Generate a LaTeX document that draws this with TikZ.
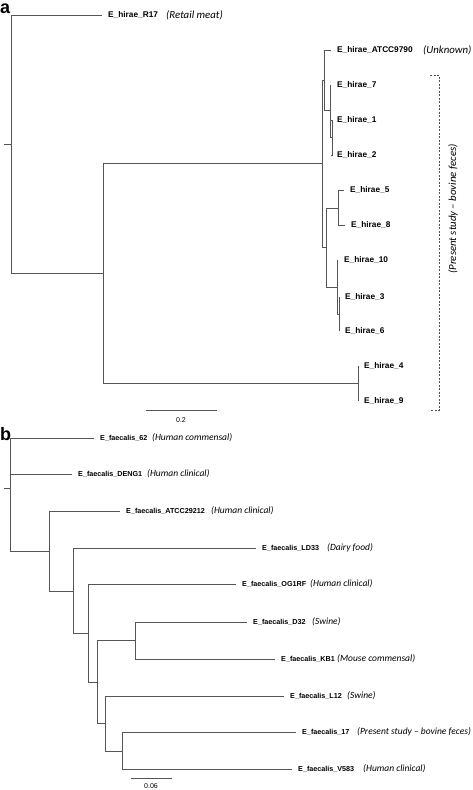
\documentclass[tikz,border=0pt]{standalone}
\usepackage{fontspec}
\setmainfont{Liberation Sans}
\newfontfamily\notefont{Carlito}
\usepackage{xcolor}
\definecolor{treegray}{RGB}{85,85,85}

\begin{document}
\begin{tikzpicture}[x=1pt, y=-1pt,
  branch/.style={draw=treegray, line width=1pt},
  bracket/.style={draw=treegray, line width=1pt, dash pattern=on 2pt off 1.5pt},
  leafa/.style={anchor=west, inner xsep=6pt, inner ysep=0pt, font=\fontsize{8.3}{10}\selectfont\bfseries},
  leafb/.style={anchor=west, inner xsep=6pt, inner ysep=0pt, font=\fontsize{7.2}{9}\selectfont\bfseries},
  notea/.style={anchor=west, inner sep=0pt, font=\fontsize{10.8}{12}\notefont\itshape},
  noteb/.style={anchor=west, inner sep=0pt, font=\fontsize{9.5}{11}\notefont\itshape},
  panel/.style={anchor=base west, inner sep=0pt, font=\fontsize{18}{20}\selectfont\bfseries},
  scalelbl/.style={inner sep=0pt, font=\fontsize{7}{8}\selectfont}]
\useasboundingbox (0,0) rectangle (472,790);

% panel a
\node[panel] (pa) at (0,13) {a};
\coordinate (ra) at (11,144);
\coordinate (ra0) at (4,144);
\coordinate (a1) at (103,273);
\coordinate (a2) at (322,163);
\coordinate (a3) at (324,80);
\coordinate (a4) at (330,110);
\coordinate (a5) at (332,137);
\coordinate (a6) at (326,247);
\coordinate (a7) at (338,208);
\coordinate (a8) at (337,287);
\coordinate (a9) at (339,314);
\coordinate (a10) at (358,383);

\node[leafa] (r17) at (102,15) {E\_hirae\_R17};
\node[leafa] (atcc) at (331,50) {E\_hirae\_ATCC9790};
\node[leafa] (h7) at (331,85) {E\_hirae\_7};
\node[leafa] (h1) at (331,120) {E\_hirae\_1};
\node[leafa] (h2) at (331,155) {E\_hirae\_2};
\node[leafa] (h5) at (344,190) {E\_hirae\_5};
\node[leafa] (h8) at (345,225) {E\_hirae\_8};
\node[leafa] (h10) at (338,260) {E\_hirae\_10};
\node[leafa] (h3) at (339,297) {E\_hirae\_3};
\node[leafa] (h6) at (339,331) {E\_hirae\_6};
\node[leafa] (h4) at (358,366) {E\_hirae\_4};
\node[leafa] (h9) at (358,401) {E\_hirae\_9};

\node[notea] (nr17) at (166,15) {(Retail meat)};
\node[notea] (natcc) at (423,50) {(Unknown)};

\draw[branch] (ra0) -- (ra);
\draw[branch] (ra) |- (r17.west);
\draw[branch] (ra) |- (a1);
\draw[branch] (a1) |- (a2);
\draw[branch] (a1) |- (a10);
\draw[branch] (a2) |- (a3);
\draw[branch] (a2) |- (a6);
\draw[branch] (a3) |- (atcc.west);
\draw[branch] (a3) |- (a4);
\draw[branch] (a4) |- (h7.west);
\draw[branch] (a4) |- (a5);
\draw[branch] (a5) |- (h1.west);
\draw[branch] (a5) |- (h2.west);
\draw[branch] (a6) |- (a7);
\draw[branch] (a6) |- (a8);
\draw[branch] (a7) |- (h5.west);
\draw[branch] (a7) |- (h8.west);
\draw[branch] (a8) |- (h10.west);
\draw[branch] (a8) |- (a9);
\draw[branch] (a9) |- (h3.west);
\draw[branch] (a9) |- (h6.west);
\draw[branch] (a10) |- (h4.west);
\draw[branch] (a10) |- (h9.west);

\coordinate (bk0) at (430,75);
\coordinate (bk1) at (439,75);
\coordinate (bk2) at (439,410);
\coordinate (bk3) at (430,410);
\draw[bracket] (bk0) -- (bk1) -- (bk2) -- (bk3);
\node[notea, anchor=center, rotate=90] (nps) at (453,209) {(Present study – bovine feces)};

\coordinate (sa0) at (146,410);
\coordinate (sa1) at (217,410);
\draw[branch] (sa0) -- (sa1);
\node[scalelbl] (sal) at (181,420) {0.2};

% panel b
\node[panel] (pb) at (0,440) {b};
\coordinate (rb) at (10,488);
\coordinate (rb0) at (4,488);
\coordinate (b1) at (49,551);
\coordinate (b2) at (73,591);
\coordinate (b3) at (88,633);
\coordinate (b4) at (97,682);
\coordinate (b5) at (135,640);
\coordinate (b6) at (105,723);
\coordinate (b7) at (122,751);

\node[leafb] (f62) at (94,438) {E\_faecalis\_62};
\node[leafb] (fdeng) at (72,474) {E\_faecalis\_DENG1};
\node[leafb] (fatcc) at (120,511) {E\_faecalis\_ATCC29212};
\node[leafb] (fld) at (256,548) {E\_faecalis\_LD33};
\node[leafb] (fog) at (236,584) {E\_faecalis\_OG1RF};
\node[leafb] (fd32) at (247,622) {E\_faecalis\_D32};
\node[leafb] (fkb) at (275,659) {E\_faecalis\_KB1};
\node[leafb] (fl12) at (284,696) {E\_faecalis\_L12};
\node[leafb] (f17) at (296,732) {E\_faecalis\_17};
\node[leafb] (fv) at (292,769) {E\_faecalis\_V583};

\node[noteb] (n62) at (152,438) {(Human commensal)};
\node[noteb] (ndeng) at (147,474) {(Human clinical)};
\node[noteb] (natcb) at (211,511) {(Human clinical)};
\node[noteb] (nld) at (327,548) {(Dairy food)};
\node[noteb] (nog) at (310,584) {(Human clinical)};
\node[noteb] (nd32) at (312,622) {(Swine)};
\node[noteb] (nkb) at (337,659) {(Mouse commensal)};
\node[noteb] (nl12) at (347,696) {(Swine)};
\node[noteb] (n17) at (357,732) {(Present study – bovine feces)};
\node[noteb] (nv) at (363,769) {(Human clinical)};

\draw[branch] (rb0) -- (rb);
\draw[branch] (rb) |- (f62.west);
\draw[branch] (rb) |- (fdeng.west);
\draw[branch] (rb) |- (b1);
\draw[branch] (b1) |- (fatcc.west);
\draw[branch] (b1) |- (b2);
\draw[branch] (b2) |- (fld.west);
\draw[branch] (b2) |- (b3);
\draw[branch] (b3) |- (fog.west);
\draw[branch] (b3) |- (b4);
\draw[branch] (b4) |- (b5);
\draw[branch] (b4) |- (b6);
\draw[branch] (b5) |- (fd32.west);
\draw[branch] (b5) |- (fkb.west);
\draw[branch] (b6) |- (fl12.west);
\draw[branch] (b6) |- (b7);
\draw[branch] (b7) |- (f17.west);
\draw[branch] (b7) |- (fv.west);

\coordinate (sb0) at (131,778);
\coordinate (sb1) at (172,778);
\draw[branch] (sb0) -- (sb1);
\node[scalelbl] (sbl) at (151,786) {0.06};
\end{tikzpicture}
\end{document}
